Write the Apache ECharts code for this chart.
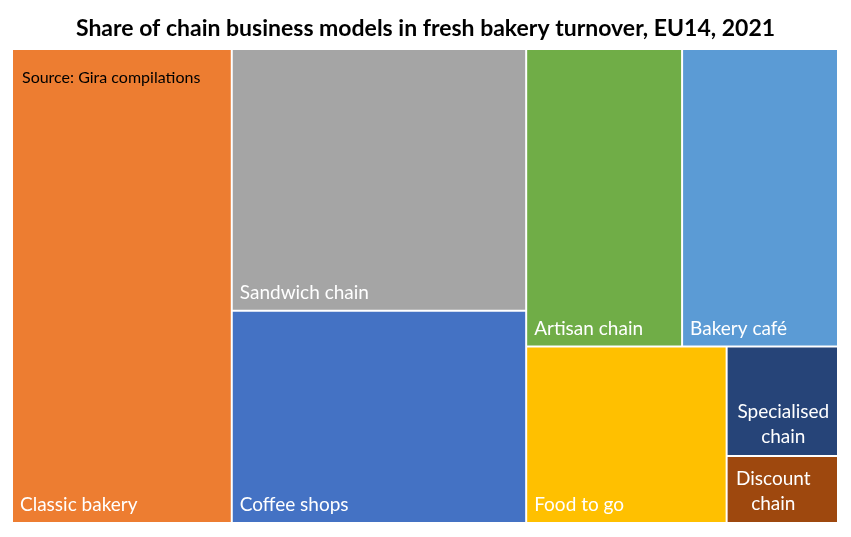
<!DOCTYPE html>
<html>
<head>
<meta charset="utf-8">
<script src="https://cdn.jsdelivr.net/npm/echarts@6/dist/echarts.min.js"></script>
<style>
  html, body { margin: 0; padding: 0; background: #fff; }
  #main { width: 851px; height: 537px; }
</style>
</head>
<body>
<div id="main"></div>
<script>
var categories = ['Classic bakery', 'Sandwich chain', 'Coffee shops', 'Artisan chain',
  'Bakery café', 'Food to go', 'Specialised chain', 'Discount chain'];
var shares = [26.5, 19.6, 15.9, 11.8, 11.8, 9.0, 3.1, 1.9];
// which column block each tile sits in (Excel layout)
var blockOf = [0, 1, 1, 2, 2, 2, 2, 2];

var colors = ['#ED7D31', '#A5A5A5', '#4472C4', '#70AD47', '#5B9BD5', '#FFC000', '#264478', '#9E480E'];

var chart = echarts.init(document.getElementById('main'));

// build nested data so the layout follows the reference
var blocks = [];
categories.forEach(function (name, i) {
  var b = blockOf[i];
  if (!blocks[b]) blocks[b] = { name: '', children: [] };
  var item = {
    name: name,
    value: shares[i],
    itemStyle: { color: colors[i] }
  };
  if (name === 'Specialised chain') {
    item.label = { position: 'insideBottom', formatter: 'Specialised\nchain', align: 'center', lineHeight: 25, offset: [1, 5] };
  }
  if (name === 'Discount chain') {
    item.label = { position: 'insideBottom', formatter: 'Discount\nchain', align: 'center', lineHeight: 25, offset: [-9, 5] };
  }
  blocks[b].children.push(item);
});

var option = {
  backgroundColor: '#fff',
  title: [{
    text: 'Share of chain business models in fresh bakery turnover, EU14, 2021',
    left: 'center',
    top: 12,
    textStyle: { fontFamily: 'Lato', fontSize: 23, fontWeight: 'bold', color: '#000' }
  }, {
    text: 'Source: Gira compilations',
    left: 17,
    top: 65,
    textStyle: { fontFamily: 'Lato', fontSize: 16, fontWeight: 'normal', color: '#000' }
  }],
  series: [{
    type: 'treemap',
    left: 13,
    top: 50,
    width: 824,
    height: 472,
    sort: false,
    squareRatio: 1,
    roam: false,
    nodeClick: false,
    breadcrumb: { show: false },
    label: {
      show: true,
      position: 'insideBottomLeft',
      distance: 6,
      offset: [-4, 6],
      color: '#fff',
      fontFamily: 'Lato',
      fontSize: 19,
      lineHeight: 24
    },
    upperLabel: { show: false },
    levels: [
      { itemStyle: { borderWidth: 0, gapWidth: 2 } },
      { itemStyle: { borderWidth: 0, gapWidth: 2 } },
      { itemStyle: { borderWidth: 0 } }
    ],
    data: blocks
  }]
};
chart.setOption(option);
</script>
</body>
</html>
